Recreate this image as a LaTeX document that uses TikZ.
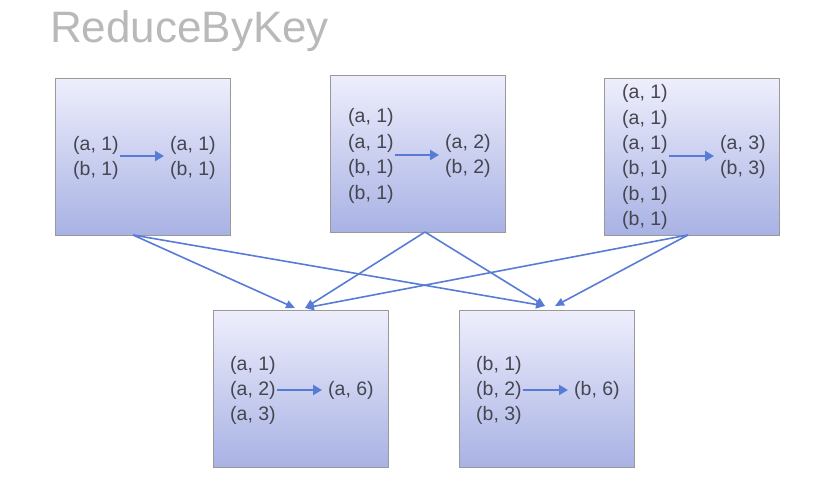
\documentclass[tikz,border=0pt]{standalone}
\usepackage{fontspec}
\setmainfont{Liberation Sans}
\usetikzlibrary{arrows.meta}
\definecolor{topc}{RGB}{238,238,252}
\definecolor{botc}{RGB}{168,178,228}
\definecolor{arr}{RGB}{88,124,214}
\definecolor{txt}{RGB}{70,70,80}
\tikzset{
  box/.style={draw=gray!80, top color=topc, bottom color=botc, minimum width=175pt, minimum height=157pt, anchor=north west, inner sep=0pt},
  lbl/.style={font=\fontsize{19.5}{22}\selectfont, text=txt, anchor=west, inner sep=0pt},
  flow/.style={draw=arr, line width=2.6pt, shorten >=6pt, -{Triangle[length=9pt,width=10pt]}},
  link/.style={draw=arr, line width=1.6pt, -{Triangle[length=9pt,width=8pt]}}
}
\begin{document}
\begin{tikzpicture}[x=1pt,y=1pt]
\useasboundingbox (0,0) rectangle (836,-486);
\node[font=\fontsize{44}{48}\selectfont, text=gray!55, anchor=west, inner sep=0pt] (title) at (50,-31) {ReduceByKey};
\node[box] (b1) at (55,-78) {};
\node[box] (b2) at (330,-75) {};
\node[box] (b3) at (604,-78) {};
\node[box] (b4) at (213,-310) {};
\node[box] (b5) at (459,-310) {};
% box1
\node[lbl] (b1l1) at (73,-145) {(a, 1)};
\node[lbl] (b1l2) at (73,-170) {(b, 1)};
\node[lbl] (b1r1) at (170,-145) {(a, 1)};
\node[lbl] (b1r2) at (170,-170) {(b, 1)};
\draw[flow] (b1l1.east |- 0,-156) ++(1,0) coordinate (c1) -- (c1 -| b1r1.west);
% box2
\node[lbl] (b2l1) at (348,-117) {(a, 1)};
\node[lbl] (b2l2) at (348,-143) {(a, 1)};
\node[lbl] (b2l3) at (348,-168) {(b, 1)};
\node[lbl] (b2l4) at (348,-194) {(b, 1)};
\node[lbl] (b2r1) at (445,-143) {(a, 2)};
\node[lbl] (b2r2) at (445,-168) {(b, 2)};
\draw[flow] (b2l2.east |- 0,-155) ++(1,0) coordinate (c2) -- (c2 -| b2r1.west);
% box3
\node[lbl] (b3l1) at (622,-93) {(a, 1)};
\node[lbl] (b3l2) at (622,-119) {(a, 1)};
\node[lbl] (b3l3) at (622,-144) {(a, 1)};
\node[lbl] (b3l4) at (622,-169) {(b, 1)};
\node[lbl] (b3l5) at (622,-195) {(b, 1)};
\node[lbl] (b3l6) at (622,-220) {(b, 1)};
\node[lbl] (b3r1) at (720,-144) {(a, 3)};
\node[lbl] (b3r2) at (720,-169) {(b, 3)};
\draw[flow] (b3l3.east |- 0,-156) ++(1,0) coordinate (c3) -- (c3 -| b3r1.west);
% box4
\node[lbl] (b4l1) at (230,-365) {(a, 1)};
\node[lbl] (b4l2) at (230,-390) {(a, 2)};
\node[lbl] (b4l3) at (230,-415) {(a, 3)};
\node[lbl] (b4r1) at (328,-390) {(a, 6)};
\draw[flow] (b4l2.east) ++(1,0) coordinate (c4) -- (c4 -| b4r1.west);
% box5
\node[lbl] (b5l1) at (476,-365) {(b, 1)};
\node[lbl] (b5l2) at (476,-390) {(b, 2)};
\node[lbl] (b5l3) at (476,-415) {(b, 3)};
\node[lbl] (b5r1) at (574,-390) {(b, 6)};
\draw[flow] (b5l2.east) ++(1,0) coordinate (c5) -- (c5 -| b5r1.west);
% links
\coordinate (s1) at (133,-235);
\coordinate (s2) at (425,-232);
\coordinate (s3) at (688,-235);
\coordinate (t4a) at (295,-308);
\coordinate (t4b) at (305,-308);
\coordinate (t5a) at (545,-306);
\coordinate (t5b) at (555,-306);
\draw[link] (s1) -- (t4a);
\draw[link] (s1) -- (t5a);
\draw[link] (s2) -- (t4b);
\draw[link] (s2) -- (t5a);
\draw[link] (s3) -- (t4b);
\draw[link] (s3) -- (t5b);
\end{tikzpicture}
\end{document}
